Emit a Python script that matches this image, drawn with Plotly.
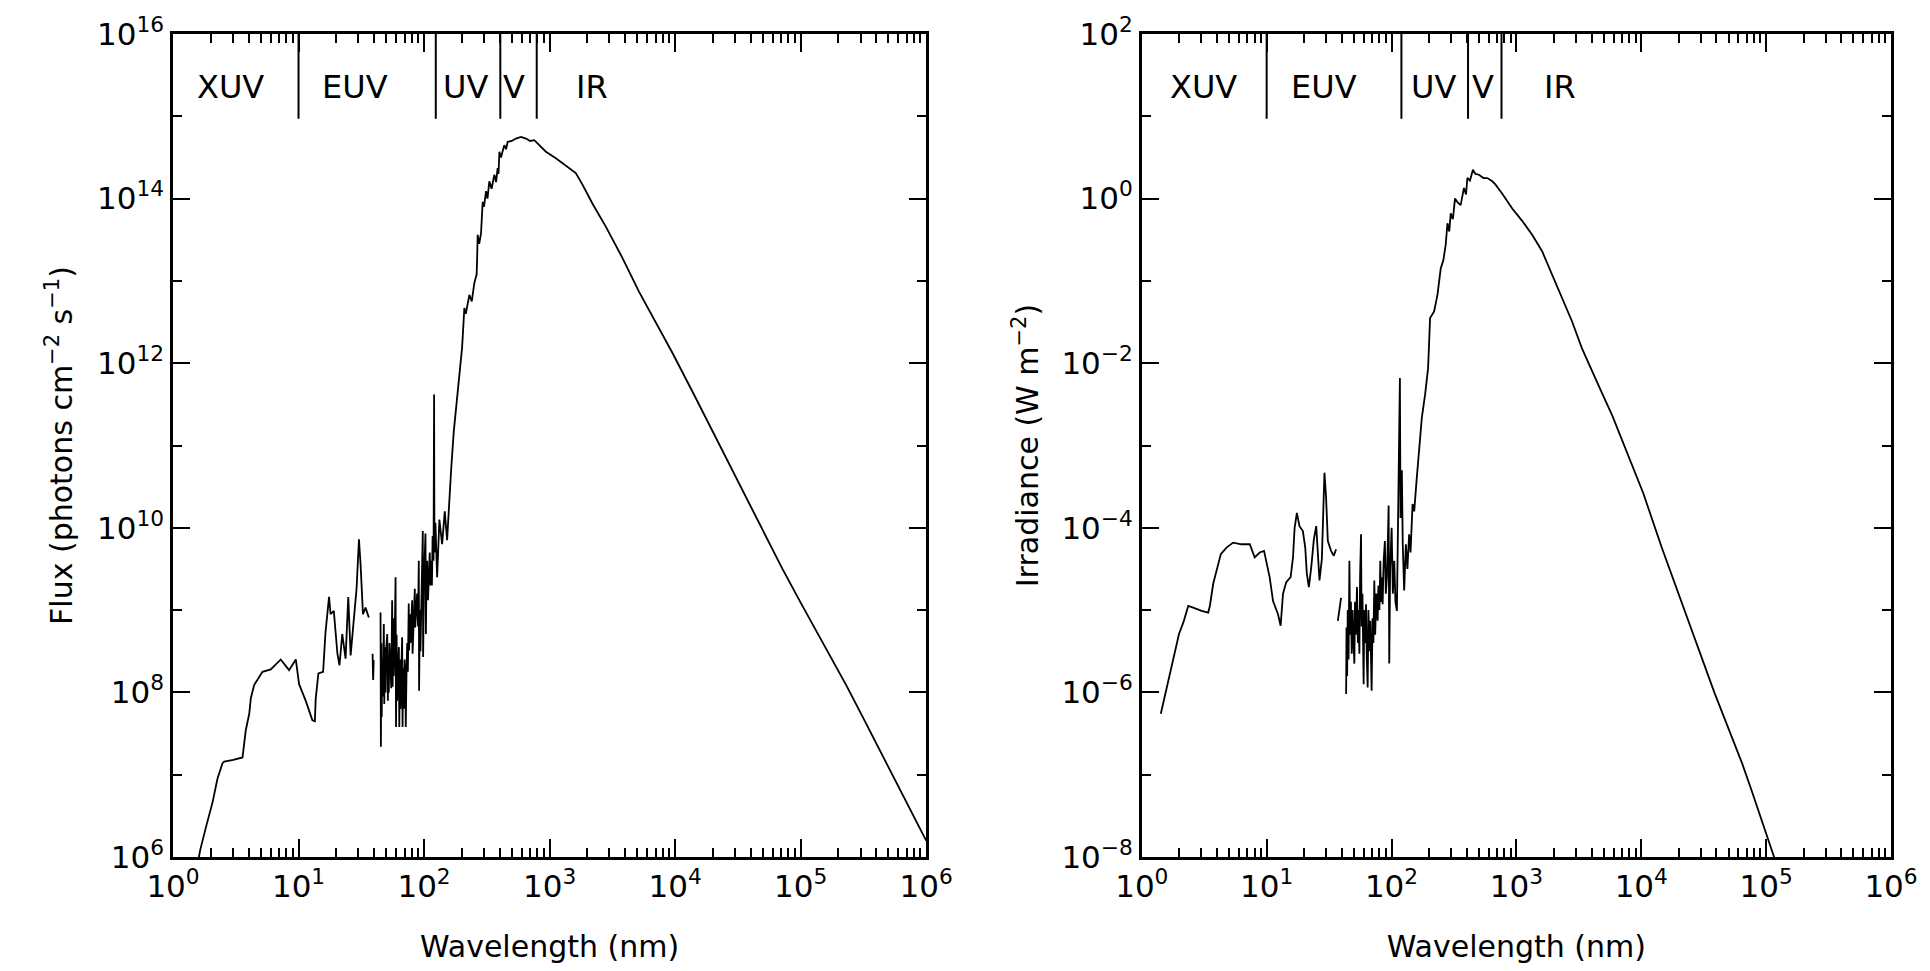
import numpy as np
import plotly.graph_objects as go

# ---------------- data (wavelength in nm, values as log10) ----------
flux_wavelength_nm = [
    1.60, 1.65, 1.85, 2.07, 2.26, 2.48, 2.56, 3.02, 3.58, 3.80, 4.05, 4.17, 4.43, 5.16, 6.01,
    7.21, 8.41, 9.51, 10.1, 11.4, 12.9, 13.5, 13.7, 14.4, 15.7, 16.4, 17.5, 18.0, 19.1, 20.4,
    21.2, 22.3, 23.7, 24.9, 26.0, 27.6, 29.0, 30.3, 31.2, 32.6, 34.2, 36.3, None,
    38.9, 39.3, 39.7, None,
    45.0, 45.3, 45.7, 46.0, 46.4, 47.0, 47.8, 48.2, 48.7, 49.3, 49.8, 50.9, 51.5, 52.0, 52.4,
    53.0, 54.1, 54.8, 55.7, 56.2, 56.8, 57.4, 58.3, 59.3, 59.8, 60.4, 61.1, 62.0, 63.0, 63.5,
    64.2, 64.9, 65.8, 66.9, 67.4, 68.2, 69.0, 70.0, 71.1, 71.5, 72.4, 73.4, 74.3, 75.5, 76.0,
    77.0, 78.0, 79.0, 80.4, 81.0, 82.5, 84.4, 85.0, 86.5, 88.1, 89.5, 90.8, 91.3, 92.5, 93.6,
    95.5, 97.7, 98.3, 100.0, 102.6, 103.5, 104.7, 105.9, 107.5, 109.0, 111.0, 112.5, 113.8,
    115.5, 117.0, 119.0, 120.2, 121.0, 123.2, 127.1, 132.5, 139.3, 146.2, 152.6, 157.0, 164.1,
    172.2, 182.0, 191.0, 200.9, 209.4, 215.0, 229.6, 240.0, 251.2, 262.4, 265.0, 267.3, 275.0,
    284.4, 293.1, 300.0, 311.9, 320.0, 331.1, 345.0, 363.1, 375.0, 385.5, 392.0, 398.1, 410.0,
    435.5, 450.0, 463.4, 500.0, 539.5, 591.6, 648.6, 700.0, 755.1, 826.0, 935.4, 1122, 1268,
    1618, 1828, 2193, 2805, 3802, 5152, 7000, 9484, 14125, 26120, 45710, 71610, 100000,
    148600, 232300, 307600, 407400, 509300, 636800, 798000, 966000, 1000000,
]
flux_log10 = [
    5.98, 6.09, 6.39, 6.67, 6.95, 7.14, 7.16, 7.18, 7.21, 7.54, 7.74, 7.93, 8.09, 8.25, 8.28,
    8.40, 8.27, 8.40, 8.10, 7.90, 7.66, 7.65, 7.92, 8.23, 8.25, 8.73, 9.16, 8.95, 8.99, 8.47,
    8.33, 8.71, 8.41, 9.16, 8.45, 8.87, 9.26, 9.86, 9.56, 8.95, 9.03, 8.91, None,
    8.47, 8.15, 8.39, None,
    8.97, 7.34, 8.60, 7.70, 8.40, 7.95, 8.83, 7.86, 8.55, 8.00, 8.50, 8.71, 7.90, 8.45, 8.00,
    8.60, 8.30, 8.05, 9.12, 8.07, 8.90, 8.20, 8.60, 9.40, 7.58, 8.70, 7.90, 8.30, 8.55, 7.58,
    8.40, 7.80, 8.20, 8.67, 7.58, 8.30, 7.80, 8.40, 8.19, 7.58, 8.20, 8.60, 8.25, 9.08, 8.51,
    8.95, 8.60, 8.90, 9.12, 8.47, 9.00, 9.26, 8.79, 9.10, 9.20, 8.80, 9.60, 8.02, 9.00, 8.50,
    9.30, 9.96, 8.43, 9.40, 9.93, 8.71, 9.50, 9.60, 9.12, 9.50, 9.70, 9.30, 9.60,
    9.30, 9.90, 9.60, 11.62, 9.70, 10.06, 9.40, 10.10, 9.80, 10.20, 9.85, 10.25, 10.69,
    11.16, 11.50, 11.82, 12.19, 12.67, 12.60, 12.83, 12.75, 12.97, 13.08, 13.30, 13.56, 13.45,
    13.58, 13.96, 13.90, 14.09, 14.00, 14.21, 14.12, 14.29, 14.20, 14.37, 14.30, 14.57, 14.50,
    14.65, 14.60, 14.69, 14.70, 14.73, 14.75, 14.73, 14.70, 14.71, 14.65, 14.57, 14.49, 14.43,
    14.31, 14.17, 13.94, 13.66, 13.28, 12.87, 12.50, 12.13, 11.62, 10.81, 10.09, 9.50, 9.09,
    8.62, 8.08, 7.72, 7.36, 7.08, 6.79, 6.50, 6.25, 6.20,
]

irr_wavelength_nm = [
    1.42, 1.585, 1.734, 1.845, 1.986, 2.153, 2.355, 2.582, 3.013, 3.404, 3.508, 3.733, 3.972,
    4.295, 4.764, 5.395, 6.281, 7.328, 8.017, 8.79, 9.528, 9.954, 10.57, 11.25, 12.33, 12.94,
    13.52, 14.35, 15.56, 16.26, 16.75, 17.46, 18.32, 19.50, 20.37, 20.99, 21.78, 22.75, 23.88,
    24.95, 25.70, 26.49, 27.67, 29.04, 29.92, 30.90, 32.81, 34.51, 35.97, None,
    37.15, 39.45, None,
    43.3, 43.6, 44.1, 44.6, 45.3, 46.0, 46.6, 47.3, 48.0, 48.8, 49.6, 50.4, 51.0, 51.8, 52.9,
    53.8, 54.5, 55.3, 56.0, 57.0, 57.6, 58.5, 59.8, 60.5, 61.5, 62.5, 63.4, 64.4, 65.3, 66.5,
    67.6, 68.4, 69.3, 70.5, 71.6, 72.8, 74.0, 75.5, 77.4, 78.5, 80.0, 81.3, 82.5, 83.8, 84.9,
    86.5, 88.5, 90.0, 91.9, 93.3, 94.8, 95.9, 97.5, 100.2, 102.5, 105.2, 107.5, 110.4, 112.0,
    114.0, 116.7, 118.0, 121.0, 123.0, 126.3, 130.3, 134.0, 138.4, 142.0, 147.4, 152.0, 158.6,
    166.4, 174.9, 185.8, 196.3, 203.6, 219.3, 233.3, 247.8, 260.0, 271.6, 280.5, 290.0, 297.9,
    310.0, 322.3, 340.0, 357.8, 380.2, 395.0, 404.9, 425.0, 448.7, 470.0, 501.2, 545.0, 584.8,
    641.2, 681.0, 770.9, 925.6, 1112, 1337, 1607, 1931, 2319, 2787, 3350, 4027, 4840, 5872,
    8260, 10380, 14590, 18330, 25820, 28910, 38460, 51170, 64120, 76030, 90360, 107100,
    116100, 120000,
]
irr_log10 = [
    -6.26, -5.94, -5.69, -5.53, -5.29, -5.15, -4.95, -4.97, -5.01, -5.03, -4.95, -4.68, -4.52,
    -4.32, -4.24, -4.18, -4.20, -4.20, -4.36, -4.30, -4.28, -4.40, -4.60, -4.89, -5.05, -5.19,
    -4.80, -4.66, -4.60, -4.36, -4.00, -3.82, -3.98, -4.04, -4.24, -4.56, -4.72, -4.48, -4.14,
    -3.98, -4.40, -4.64, -4.38, -3.33, -3.63, -4.16, -4.28, -4.34, -4.26, None,
    -5.13, -4.85, None,
    -6.02, -5.21, -5.80, -5.00, -5.60, -4.40, -5.30, -4.90, -5.53, -5.00, -5.40, -5.65, -4.90,
    -5.30, -4.72, -5.40, -5.00, -5.53, -4.60, -4.08, -5.20, -4.80, -5.90, -5.00, -5.40, -4.93,
    -5.60, -5.94, -5.00, -5.50, -5.13, -5.70, -5.98, -5.10, -5.40, -4.64, -5.30, -4.80, -5.13,
    -4.70, -5.00, -4.40, -4.90, -4.60, -4.93, -4.40, -4.16, -4.80, -4.60, -4.20, -3.73, -5.65,
    -4.50, -4.00, -4.80, -4.40, -4.90, -5.01, -4.30,
    -3.90, -2.18, -3.88, -3.30, -4.20, -4.76, -4.20, -4.50, -4.08, -4.30, -3.71, -3.80, -3.43,
    -3.07, -2.66, -2.38, -2.06, -1.45, -1.37, -1.17, -0.85, -0.75, -0.56, -0.30, -0.40, -0.18,
    -0.25, 0.00, -0.05, -0.08, 0.13, 0.05, 0.25, 0.22, 0.35, 0.30, 0.29, 0.25, 0.25,
    0.21, 0.17, 0.06, -0.12, -0.27, -0.44, -0.64, -0.93, -1.21, -1.49, -1.82, -2.10, -2.36, -2.64,
    -3.19, -3.58, -4.24, -4.66, -5.28, -5.49, -6.00, -6.48, -6.86, -7.18, -7.52, -7.83,
    -8.00, -8.07,
]

region_labels = ["XUV", "EUV", "UV", "V", "IR"]
flux_label_nm = [2.89, 28.0, 213.0, 519.0, 2170.0]
irr_label_nm = [3.1, 28.6, 217.0, 536.0, 2228.0]
flux_bounds_nm = [10.0, 124.0, 405.0, 790.0]
irr_bounds_nm = [10.0, 120.0, 410.0, 760.0]

x_major = [1, 10, 100, 1e3, 1e4, 1e5, 1e6]
x_major_text = ["10<sup>%d</sup>" % k for k in range(7)]
flux_major = [1e6, 1e8, 1e10, 1e12, 1e14, 1e16]
flux_major_text = ["10<sup>%d</sup>" % k for k in (6, 8, 10, 12, 14, 16)]
flux_minor = [1e7, 1e9, 1e11, 1e13, 1e15]
irr_major = [1e-8, 1e-6, 1e-4, 1e-2, 1, 1e2]
irr_major_text = ["10<sup>−8</sup>", "10<sup>−6</sup>", "10<sup>−4</sup>",
                  "10<sup>−2</sup>", "10<sup>0</sup>", "10<sup>2</sup>"]
irr_minor = [1e-7, 1e-5, 1e-3, 1e-1, 10]

# ------------------------------------------------------------------------------------------
def to_linear(arr):
    return [None if v is None else 10.0 ** v for v in arr]

x_minor = [m * 10.0 ** k for k in range(6) for m in range(2, 10)]

FONT = "DejaVu Sans"
fig = go.Figure()

fig.add_trace(go.Scatter(x=flux_wavelength_nm, y=to_linear(flux_log10), mode="lines",
                         line=dict(color="black", width=1.8), connectgaps=False,
                         xaxis="x", yaxis="y", showlegend=False, hoverinfo="skip"))
fig.add_trace(go.Scatter(x=irr_wavelength_nm, y=to_linear(irr_log10), mode="lines",
                         line=dict(color="black", width=1.8), connectgaps=False,
                         xaxis="x2", yaxis="y2", showlegend=False, hoverinfo="skip"))

# region divider lines hanging from the top axis (about 1.03 decades long)
def divider_xy(bounds, ytop_exp):
    xs, ys = [], []
    for b in bounds:
        xs += [b, b, None]
        ys += [10 ** ytop_exp, 10 ** (ytop_exp - 1.03), None]
    return xs, ys

dx, dy = divider_xy(flux_bounds_nm, 16)
fig.add_trace(go.Scatter(x=dx, y=dy, mode="lines", line=dict(color="black", width=2),
                         xaxis="x", yaxis="y", showlegend=False, hoverinfo="skip"))
dx, dy = divider_xy(irr_bounds_nm, 2)
fig.add_trace(go.Scatter(x=dx, y=dy, mode="lines", line=dict(color="black", width=2),
                         xaxis="x2", yaxis="y2", showlegend=False, hoverinfo="skip"))

annotations = []
for lab, xv in zip(region_labels, flux_label_nm):
    annotations.append(dict(x=np.log10(xv), y=15.36, xref="x", yref="y", text=lab,
                            showarrow=False, font=dict(family=FONT, size=32, color="black")))
for lab, xv in zip(region_labels, irr_label_nm):
    annotations.append(dict(x=np.log10(xv), y=1.36, xref="x2", yref="y2", text=lab,
                            showarrow=False, font=dict(family=FONT, size=32, color="black")))

tick_font = dict(family=FONT, size=31, color="black")
title_font = dict(family=FONT, size=30, color="black")

def xaxis_cfg(domain, anchor):
    return dict(type="log", range=[0, 6], domain=domain, anchor=anchor,
                showline=True, linewidth=2.5, linecolor="black", mirror="ticks",
                ticks="inside", ticklen=18, tickwidth=2, tickcolor="black",
                tickvals=x_major, ticktext=x_major_text, tickfont=tick_font,
                minor=dict(tickvals=x_minor, ticks="inside", ticklen=9, tickwidth=1.5,
                           tickcolor="black", showgrid=False),
                showgrid=False, zeroline=False,
                title=dict(text="Wavelength (nm)", font=title_font, standoff=34))

def yaxis_cfg(rng, vals, text, minor_vals, title, anchor, standoff):
    return dict(type="log", range=rng, domain=[0, 1], anchor=anchor,
                showline=True, linewidth=2.5, linecolor="black", mirror="ticks",
                ticks="inside", ticklen=17, tickwidth=2, tickcolor="black",
                tickvals=vals, ticktext=text, tickfont=tick_font,
                minor=dict(tickvals=minor_vals, ticks="inside", ticklen=9, tickwidth=2,
                           tickcolor="black", showgrid=False),
                showgrid=False, zeroline=False,
                title=dict(text=title, font=title_font, standoff=standoff))

fig.update_layout(
    width=1930, height=971,
    margin=dict(l=173, r=35, t=32, b=114),
    paper_bgcolor="white", plot_bgcolor="white",
    xaxis=xaxis_cfg([0, 0.4384], "y"),
    xaxis2=xaxis_cfg([0.5639, 1], "y2"),
    yaxis=yaxis_cfg([6, 16], flux_major, flux_major_text, flux_minor,
                    "Flux (photons cm<sup>−2</sup> s<sup>−1</sup>)", "x", 16),
    yaxis2=yaxis_cfg([-8, 2], irr_major, irr_major_text, irr_minor,
                     "Irradiance (W m<sup>−2</sup>)", "x2", 14),
    annotations=annotations,
    showlegend=False,
)

fig.write_html("out.html")
